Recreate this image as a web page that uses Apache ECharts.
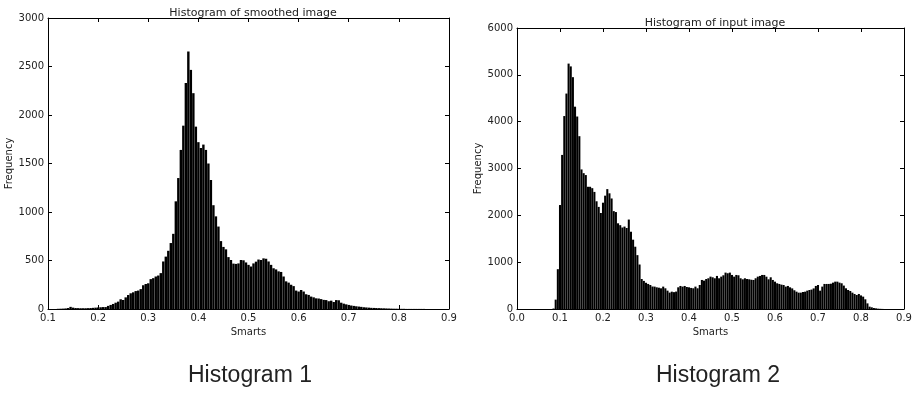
<!DOCTYPE html>
<html>
<head>
<meta charset="utf-8">
<script src="https://cdn.jsdelivr.net/npm/echarts@6/dist/echarts.min.js"></script>
<style>html,body{margin:0;padding:0;background:#fff}#c{width:915px;height:395px}</style>
</head>
<body>
<div id="c"></div>
<script>
// ---- data ----
const binWidth = 0.005;
const leftFirstCenter = 0.120;   // centre of first bin (smoothed image)
const rightFirstCenter = 0.085;  // centre of first bin (input image)
const leftTicksX = [0.1, 0.9];
const rightTicksX = [0.0, 0.9];
const leftCounts = [
  2,3,4,6,10,22,14,10,9,8,8,8,9,10,12,14,16,18,20,20,
  32,42,52,65,76,100,93,120,144,162,172,185,190,205,245,258,265,308,318,335,
  345,370,490,540,600,680,775,1110,1350,1640,1890,2330,2655,2465,2225,1880,1720,1660,1695,1640,
  1500,1330,1070,955,850,700,640,615,535,505,468,465,470,505,502,480,455,438,470,488,
  510,505,522,518,490,455,420,408,388,382,335,285,272,250,236,190,180,196,180,152,
  145,128,120,110,108,102,94,92,80,86,72,92,90,65,55,48,42,36,32,28,
  25,22,18,16,14,12,11,10,9,8,7,6,5,4,3,3,2,2,2,1,
  1,1,1,1,1,1,1
];
const rightCounts = [
  10,200,850,2220,3290,4120,4600,5240,5180,4950,4320,4110,3690,2980,2900,2860,2610,2610,2580,2500,
  2300,2180,2050,2270,2420,2560,2470,2360,2090,2070,1830,1790,1740,1760,1730,1910,1650,1480,1330,1150,
  950,640,600,560,535,513,480,478,463,455,442,478,442,392,350,370,360,372,463,492,
  478,492,470,463,450,442,478,442,513,620,606,640,656,691,677,656,706,656,691,720,
  777,763,777,727,691,727,720,656,634,656,640,634,625,620,656,691,706,727,727,690,
  634,677,620,584,549,535,520,513,478,492,463,440,400,370,349,349,363,370,392,406,
  415,440,492,513,392,478,535,535,535,540,563,584,584,563,549,500,442,406,385,349,
  321,299,321,290,264,207,120,50,36,21,14,7,4,2
];
const leftTitle = 'Histogram of smoothed image';
const rightTitle = 'Histogram of input image';
const xName = 'Smarts';
const yName = 'Frequency';
const captions = ['Histogram 1', 'Histogram 2'];

function pairs(first, counts) {
  return counts.map((c, i) => [+(first + i * binWidth).toFixed(4), c]);
}

const font = 'DejaVu Sans';
const txt = '#222';
function xAxes(gi, min, max) {
  return [
    { gridIndex: gi, type: 'value', min: min, max: max, interval: 0.1, position: 'bottom',
      name: xName, nameLocation: 'middle', nameGap: 17,
      nameTextStyle: { fontFamily: font, fontSize: 10, color: txt },
      axisLine: { show: true, onZero: false, lineStyle: { color: '#000', width: 1 } },
      axisTick: { show: true, inside: true, length: 4, lineStyle: { color: '#000' } },
      axisLabel: { fontFamily: font, fontSize: 10, color: txt, margin: 4, formatter: v => v.toFixed(1) },
      splitLine: { show: false } },
    { gridIndex: gi, type: 'value', min: min, max: max, interval: 0.1, position: 'top',
      axisLine: { show: true, onZero: false, lineStyle: { color: '#000', width: 1 } },
      axisTick: { show: true, inside: true, length: 4, lineStyle: { color: '#000' } },
      axisLabel: { show: false }, splitLine: { show: false } }
  ];
}
function yAxes(gi, max, interval, gap) {
  return [
    { gridIndex: gi, type: 'value', min: 0, max: max, interval: interval, position: 'left',
      name: yName, nameLocation: 'middle', nameGap: gap, nameRotate: 90,
      nameTextStyle: { fontFamily: font, fontSize: 10, color: txt },
      axisLine: { show: true, onZero: false, lineStyle: { color: '#000', width: 1 } },
      axisTick: { show: true, inside: true, length: 4, lineStyle: { color: '#000' } },
      axisLabel: { fontFamily: font, fontSize: 10, color: txt, margin: 4, formatter: v => String(v) },
      splitLine: { show: false } },
    { gridIndex: gi, type: 'value', min: 0, max: max, interval: interval, position: 'right',
      axisLine: { show: true, onZero: false, lineStyle: { color: '#000', width: 1 } },
      axisTick: { show: true, inside: true, length: 4, lineStyle: { color: '#000' } },
      axisLabel: { show: false }, splitLine: { show: false } }
  ];
}

const chart = echarts.init(document.getElementById('c'), null, { renderer: 'canvas' });
chart.setOption({
  animation: false,
  backgroundColor: '#fff',
  title: [
    { text: leftTitle, left: 248, top: 3, textAlign: 'center',
      textStyle: { fontFamily: font, fontSize: 11, fontWeight: 'normal', color: txt } },
    { text: rightTitle, left: 710, top: 13, textAlign: 'center',
      textStyle: { fontFamily: font, fontSize: 11, fontWeight: 'normal', color: txt } }
  ],
  grid: [
    { left: 48, right: 466, top: 18, bottom: 86, containLabel: false },
    { left: 517, right: 11, top: 28, bottom: 86, containLabel: false }
  ],
  xAxis: [...xAxes(0, leftTicksX[0], leftTicksX[1]), ...xAxes(1, rightTicksX[0], rightTicksX[1])],
  yAxis: [...yAxes(0, 3000, 500, 32), ...yAxes(1, 6000, 1000, 30)],
  series: [
    { type: 'bar', xAxisIndex: 0, yAxisIndex: 0, data: pairs(leftFirstCenter, leftCounts),
      barWidth: '96%', itemStyle: { color: '#000' }, silent: true },
    { type: 'bar', xAxisIndex: 2, yAxisIndex: 2, data: pairs(rightFirstCenter, rightCounts),
      barWidth: '96%', itemStyle: { color: '#000' }, silent: true }
  ],
  graphic: [
    { type: 'text', x: 250, y: 376, style: { text: captions[0], fontFamily: 'Liberation Sans', fontSize: 23, fill: txt, align: 'center', verticalAlign: 'middle' } },
    { type: 'text', x: 718, y: 376, style: { text: captions[1], fontFamily: 'Liberation Sans', fontSize: 23, fill: txt, align: 'center', verticalAlign: 'middle' } }
  ]
});
</script>
</body>
</html>
